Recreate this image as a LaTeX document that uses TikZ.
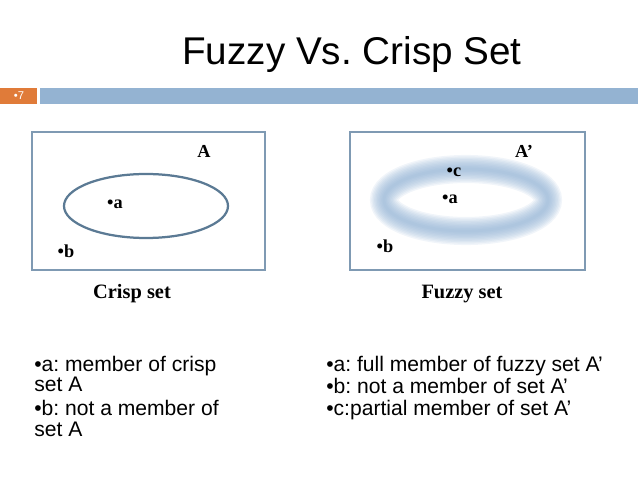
\documentclass[tikz,border=0pt]{standalone}
\usepackage{fontspec}
\setmainfont{Liberation Sans}
\newfontfamily\serifsym{Liberation Serif}
\frenchspacing
\definecolor{slideorange}{HTML}{E07B39}
\definecolor{slidebar}{HTML}{94B3D2}
\definecolor{boxline}{HTML}{7F9AB3}
\definecolor{crispline}{HTML}{5B7A94}
\definecolor{fuzzyblue}{HTML}{8FB0D3}
\tikzset{
  setlabel/.style={font=\serifsym\bfseries\fontsize{13}{15}\selectfont,inner sep=0pt},
  caption/.style={font=\serifsym\bfseries\fontsize{14.5}{17}\selectfont,inner sep=0pt},
  note/.style={font=\fontsize{15}{18}\selectfont,anchor=base west,inner sep=0pt},
  universe/.style={draw=boxline,line width=1pt}
}
\begin{document}
\begin{tikzpicture}[x=0.025cm,y=-0.025cm]
  \useasboundingbox (0,0) rectangle (638,478);

  % 标题
  \node[font=\fontsize{27.5}{33}\selectfont,anchor=base,inner sep=0pt] (title) at (352,65) {Fuzzy Vs. Crisp Set};

  % 页码条
  \fill[slideorange] (0,88) rectangle (37,104);
  \fill[slidebar] (40,88) rectangle (638,104);
  \node[text=white,font=\fontsize{8}{9}\selectfont] (pageno) at (19,96) {•7};

  % 经典集合
  \draw[universe] (32,132) rectangle (265,270);
  \draw[crispline,line width=1.6pt] (146,206) ellipse (82 and 32);
  \node[setlabel] (A) at (204,151) {A};
  \node[setlabel] (a1) at (115,204) {•a};
  \node[setlabel] (b1) at (66,251) {•b};
  \node[caption] (crisp) at (132,294) {Crisp set};

  % 模糊集合
  \draw[universe] (350,132) rectangle (585,270);
  \foreach \w in {2,4,...,20}
    \draw[fuzzyblue,line width=\w pt,opacity=0.12] (466,200) ellipse (82 and 31);
  \node[setlabel] (A2) at (524,151) {A’};
  \node[setlabel] (c2) at (454,172) {•c};
  \node[setlabel] (a2) at (450,199) {•a};
  \node[setlabel] (b2) at (385,246) {•b};
  \node[caption] (fuzzy) at (462,294) {Fuzzy set};

  % 说明文字
  \node[note] (n1) at (34,371) {•a: member of crisp};
  \node[note] (n2) at (34,392) {set A};
  \node[note] (n3) at (34,415) {•b: not a member of};
  \node[note] (n4) at (34,436) {set A};
  \node[note] (m1) at (326,371) {•a: full member of fuzzy set A’};
  \node[note] (m2) at (326,393) {•b: not a member of set A’};
  \node[note] (m3) at (326,415) {•c:partial member of set A’};
\end{tikzpicture}
\end{document}
